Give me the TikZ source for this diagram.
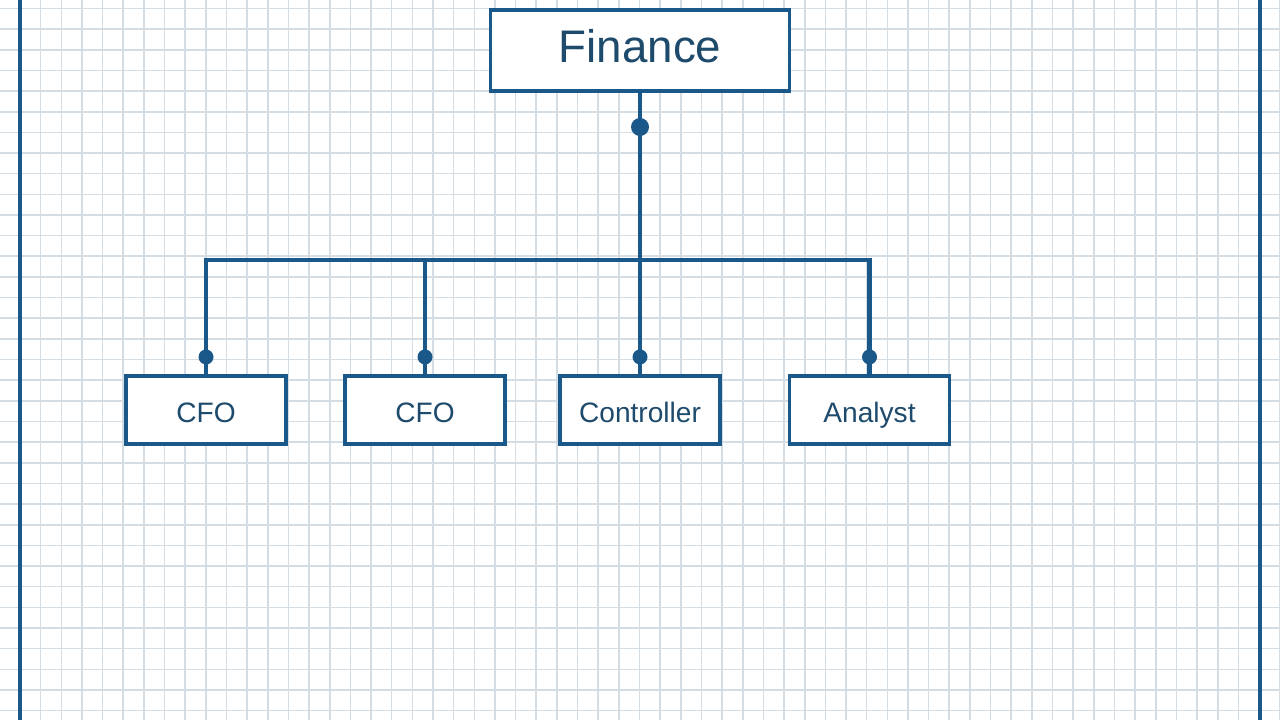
\documentclass[tikz,border=0pt]{standalone}
\usepackage{fontspec}
\setmainfont{Liberation Sans}
\usepackage{tikz}
\definecolor{inkblue}{RGB}{27,88,138}
\definecolor{textblue}{RGB}{30,74,108}
\definecolor{gridblue}{RGB}{212,220,228}
\def\largeur{12.8}
\def\hauteur{7.2}
\def\pas{0.2065}

\begin{document}
\begin{tikzpicture}[x=1cm, y=1cm,
    unit/.style={draw=inkblue, line width=1.1pt, fill=white, text=textblue,
                 font=\fontsize{8}{10}\selectfont, minimum width=1.6cm, minimum height=0.68cm,
                 inner sep=0pt, text height=1.6ex, text depth=0.3ex},
    wire/.style={draw=inkblue, line width=1.4pt},
    dot/.style={circle, fill=inkblue, inner sep=0pt, minimum size=0.15cm}]
    \useasboundingbox (0,0) rectangle (\largeur,\hauteur);
    % Paper.
    \fill[white] (0,0) rectangle (\largeur,\hauteur);
    \begin{scope}
        \clip (0,0) rectangle (\largeur,\hauteur);
        \draw[shift={(-0.0065,-0.1125)}, step=\pas cm, line width=0.45pt, gridblue] (0,0) grid (13.2,7.6);
    \end{scope}
    % Margins.
    \draw[inkblue, line width=1pt] (0.20,0) -- (0.20,\hauteur);
    \draw[inkblue, line width=1pt] (12.60,0) -- (12.60,\hauteur);
    % Head.
    \node[unit, minimum width=2.99cm, minimum height=0.81cm, font=\fontsize{13}{15}\selectfont] (finance) at (6.40,6.695) {Finance};
    % Staff.
    \node[unit] (cfoA)    at (2.06,3.10)  {CFO};
    \node[unit] (cfoB)    at (4.25,3.10)  {CFO};
    \node[unit] (control) at (6.40,3.10)  {Controller};
    \node[unit] (analyst) at (8.695,3.10) {Analyst};
    % Bus.
    \coordinate (hub) at (6.40,4.60);
    \draw[wire] (finance.south) -- (hub);
    \draw[wire] (cfoA.north) |- (hub) -| (analyst.north);
    \draw[wire] (cfoB.north) -- (cfoB.north |- hub);
    \draw[wire] (control.north) -- (hub);
    % Dots.
    \node[dot, minimum size=0.18cm] (dtop) at (6.40,5.93) {};
    \node[dot] (dA) at (cfoA.north |- 0,3.63) {};
    \node[dot] (dB) at (cfoB.north |- 0,3.63) {};
    \node[dot] (dC) at (control.north |- 0,3.63) {};
    \node[dot] (dD) at (analyst.north |- 0,3.63) {};
\end{tikzpicture}
\end{document}
